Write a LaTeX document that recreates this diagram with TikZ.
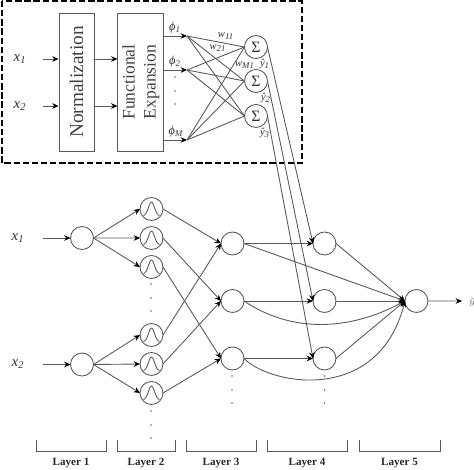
\documentclass[tikz,border=0pt]{standalone}
\usepackage{fontspec}
\setmainfont{Liberation Serif}
\usepackage{tikz}
\usetikzlibrary{arrows.meta,positioning}

\begin{document}
\begin{tikzpicture}[
    x=0.02cm, y=-0.02cm,
    line/.style={draw=black!65, line width=0.5pt},
    arr/.style={line, -{Stealth[length=3.6pt, width=3.2pt, black]}},
    block/.style={rectangle, draw=black!65, line width=0.5pt, align=center, inner sep=0pt, font=\fontsize{11}{13}\selectfont, text=black!75},
    neuron/.style={circle, draw=black!65, line width=0.5pt, minimum size=0.46cm, inner sep=0pt, outer sep=0pt},
    sumnode/.style={neuron, font=\fontsize{9}{9}\selectfont, text=black!80},
    rbf/.style={neuron, path picture={\draw[line, shift={(path picture bounding box.center)}] plot[domain=-8:8, samples=25, smooth] ({\x},{7-14*exp(-(\x*\x)/18)});}},
    lab/.style={inner sep=0pt, font=\fontsize{8.5}{9}\selectfont, text=black!80},
    small/.style={inner sep=0pt, font=\fontsize{6}{7}\selectfont, text=black!80},
    phil/.style={small, font=\fontsize{7}{8}\selectfont},
    layer/.style={inner sep=0pt, font=\fontsize{6.3}{8}\selectfont\bfseries, text=black!85},
    dots/.style={circle, fill=black!60, minimum size=1pt, inner sep=0pt}
]
\useasboundingbox (0,0) rectangle (474,470);

% Dashed frame
\draw[black, line width=1.5pt, dash pattern=on 3.6pt off 1.6pt] (2,1) rectangle (302,163);

% Upper network
\node[block, minimum width=0.7cm, minimum height=2.76cm] (norm) at (76.5,82) {\rotatebox{90}{Normalization}};
\node[block, minimum width=0.92cm, minimum height=2.76cm, right=0.46cm of norm] (func) {\fontsize{10}{12}\selectfont\rotatebox{90}{\begin{tabular}{@{}c@{}}Functional\\Expansion\end{tabular}}};

\node[lab] (xa) at (20,59) {\textit{x\textsubscript{1}}};
\node[lab] (xb) at (20,106) {\textit{x\textsubscript{2}}};

\coordinate (pa) at (187,36);
\coordinate (pb) at (187,70);
\coordinate (pm) at (187,140);
\node[phil] (phia) at (175,28) {\textit{ϕ\textsubscript{1}}};
\node[phil] (phib) at (175,62) {\textit{ϕ\textsubscript{2}}};
\node[phil] (phim) at (176,132) {\textit{ϕ\textsubscript{M}}};

\node[sumnode] (sa) at (256,47) {Σ};
\node[sumnode, below=0.22cm of sa] (sb) {Σ};
\node[sumnode, below=0.24cm of sb] (sc) {Σ};

\node[small] at (226,36) {\textit{w\textsubscript{11}}};
\node[small] at (218,48) {\textit{w\textsubscript{21}}};
\node[small] at (245,65) {\textit{w\textsubscript{M1}}};
\node[small] at (265,64) {\textit{ŷ\textsubscript{1}}};
\node[small] at (266,98) {\textit{ŷ\textsubscript{2}}};
\node[small] at (265,133) {\textit{ŷ\textsubscript{3}}};

\foreach \dy in {77,91,104}
    \node[dots] at (175,\dy) {};

\draw[arr, shorten <=0.32cm] (xa) -- (xa -| norm.west);
\draw[arr, shorten <=0.32cm] (xb) -- (xb -| norm.west);
\draw[arr] (xa -| norm.east) -- (xa -| func.west);
\draw[arr] (xb -| norm.east) -- (xb -| func.west);
\draw[arr] (pa -| func.east) -- (pa);
\draw[arr] (pb -| func.east) -- (pb);
\draw[arr] (pm -| func.east) -- (pm);

\foreach \from in {pa,pb,pm}
    \foreach \to in {sa,sb,sc}
        \draw[line] (\from) -- (\to.west);

% Layer 1
\node[neuron] (ina) at (82,238) {};
\node[neuron] (inb) at (82,364.5) {};
\node[lab] (xc) at (18,238) {\textit{x\textsubscript{1}}};
\node[lab] (xd) at (18,364.5) {\textit{x\textsubscript{2}}};
\draw[arr, shorten <=0.36cm] (xc) -- (ina);
\draw[arr, shorten <=0.36cm] (xd) -- (inb);

% Layer 2
\node[rbf] (ra) at (151.5,209) {};
\node[rbf, below=0.12cm of ra] (rb) {};
\node[rbf, below=0.12cm of rb] (rc) {};
\node[rbf] (rd) at (151.5,335) {};
\node[rbf, below=0.12cm of rd] (re) {};
\node[rbf, below=0.12cm of re] (rf) {};

% Layer 3
\node[neuron] (ma) at (232.5,243.5) {};
\node[neuron, below=0.69cm of ma] (mb) {};
\node[neuron, below=0.69cm of mb] (mc) {};

% Layer 4
\node[neuron, right=1.38cm of ma] (na) {};
\node[neuron, right=1.38cm of mb] (nb) {};
\node[neuron, right=1.38cm of mc] (nc) {};

% Layer 5
\node[neuron, right=1.38cm of nb] (out) {};
\coordinate (end) at (462,301);
\node[inner sep=0pt, font=\fontsize{4}{4}\selectfont, text=black!60] at (472,302) {$\hat y$};

% Dots
\foreach \dy in {284,298,311,411,425,438}
    \node[dots] at (151,\dy) {};
\foreach \dy in {376,390,403} {
    \node[dots] at (232,\dy) {};
    \node[dots] at (324.5,\dy) {};
}

% Lines connecting the layers
\draw[arr] (ina.east) -- (ra.west);
\draw[arr] (ina.east) -- (rb.west);
\draw[arr] (ina.east) -- (rc.west);
\draw[arr] (inb.east) -- (rd.west);
\draw[arr] (inb.east) -- (re.west);
\draw[arr] (inb.east) -- (rf.west);

\draw[arr] (ra.east) -- (ma.west);
\draw[arr] (rb.east) -- (mb.west);
\draw[arr] (rc.east) -- (mc.west);
\draw[arr] (rd.east) -- (ma.west);
\draw[arr] (re.east) -- (mb.west);
\draw[arr] (rf.east) -- (mc.west);

\draw[arr] (ma.east) -- (na.west);
\draw[arr] (mb.east) -- (nb.west);
\draw[arr] (mc.east) -- (nc.west);

\draw[arr] (sa.east) -- (na.west);
\draw[arr] (sb.east) -- (nb.west);
\draw[arr] (sc.east) -- (nc.west);

\draw[arr] (na.east) -- (out.west);
\draw[arr] (nb.east) -- (out.west);
\draw[arr] (nc.east) -- (out.west);
\draw[arr] (ma.east) -- (out.west);
\draw[arr] (mb.east) .. controls (290,332) and (347,332) .. (out.west);
\draw[arr] (mc.east) .. controls (270,385) and (378,405) .. (out.west);
\draw[arr] (out) -- (end);

% Layer brackets
\foreach \xa/\xb/\name/\txt in {36/106/la/Layer 1, 117/175/lb/Layer 2, 186/256/lc/Layer 3, 267/347/ld/Layer 4, 359/440/le/Layer 5} {
    \draw[line] (\xa,440) -- (\xa,451) -- (\xb,451) -- (\xb,440);
    \node[layer] (\name) at ({(\xa+\xb)/2},463) {\txt};
}
\end{tikzpicture}
\end{document}
